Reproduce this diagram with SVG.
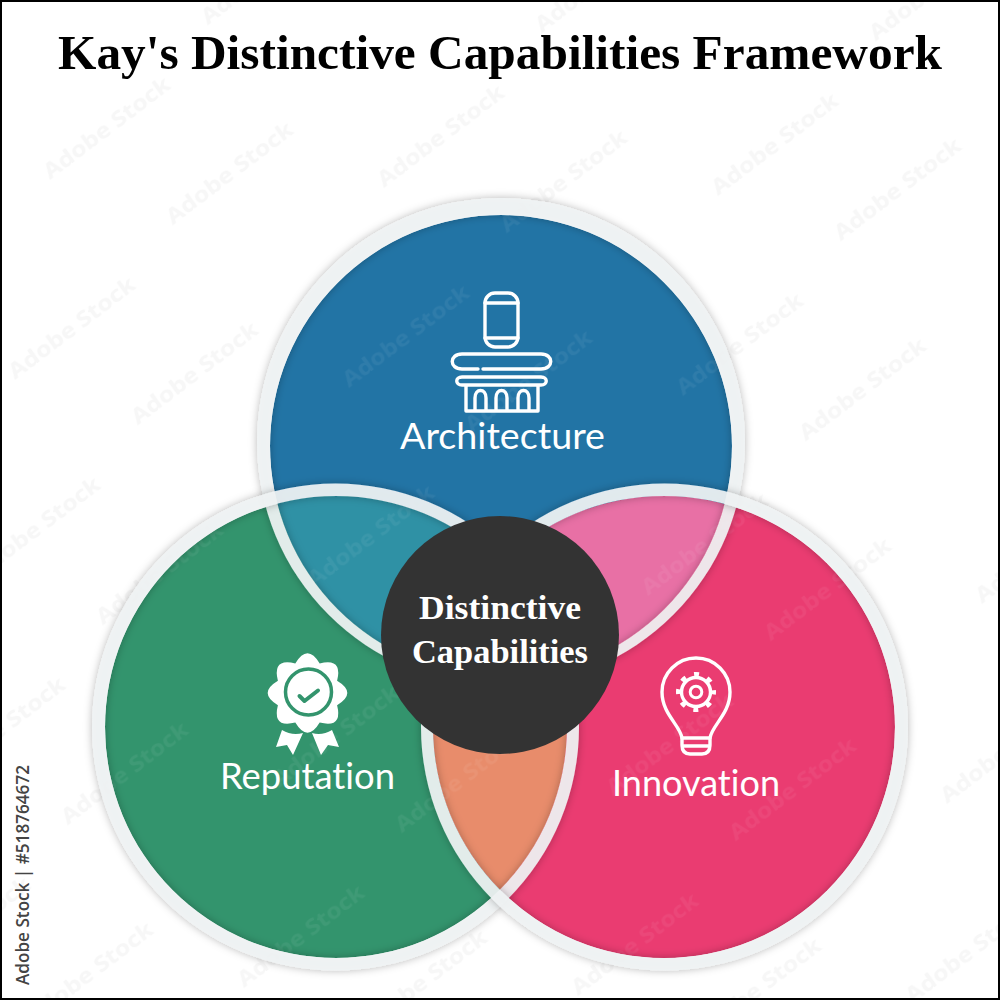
<svg xmlns="http://www.w3.org/2000/svg" xmlns:xlink="http://www.w3.org/1999/xlink" width="1000" height="1000" viewBox="0 0 1000 1000">
<style>
.ring{fill:#f0f3f4;fill-opacity:.92;fill-rule:evenodd;filter:url(#sh)}
.lb{font-family:Lato,"Liberation Sans",sans-serif;fill:#fff;text-anchor:middle;font-variant-ligatures:none}
.sf{font-family:"Liberation Serif",serif;font-weight:bold;text-anchor:middle}
.ic{fill:none;stroke:#fff;stroke-width:3.4;stroke-linecap:round;stroke-linejoin:round}
.wm{font-family:"Open Sans","Liberation Sans",sans-serif;font-weight:700;font-size:23px}
</style>
<defs>
<filter id="sh" x="-10%" y="-10%" width="120%" height="120%"><feDropShadow dx="0" dy="0" stdDeviation="4.5" flood-color="#000" flood-opacity=".3"/></filter>
<clipPath id="cT"><circle cx="501" cy="446" r="231"/></clipPath>
<clipPath id="cL"><circle cx="336" cy="727" r="231"/></clipPath>
<clipPath id="cR"><circle cx="664" cy="727" r="231"/></clipPath>
<pattern id="wg" width="334" height="200" patternUnits="userSpaceOnUse" patternTransform="matrix(1 .024 -.175 1 54.5 39.5)">
<g class="wm" fill="#000" fill-opacity=".035"><text transform="translate(20 140) rotate(-42)">Adobe Stock</text><text transform="translate(150 182) rotate(-42)">Adobe Stock</text></g>
</pattern>
<pattern id="ww" width="334" height="200" patternUnits="userSpaceOnUse" patternTransform="matrix(1 .024 -.175 1 54.5 39.5)">
<g class="wm" fill="#fff" fill-opacity=".06"><text transform="translate(20 140) rotate(-42)">Adobe Stock</text><text transform="translate(150 182) rotate(-42)">Adobe Stock</text></g>
</pattern>
</defs>
<rect width="1000" height="1000" fill="#fff"/>
<rect width="1000" height="1000" fill="url(#wg)"/>

<circle cx="501" cy="446" r="231" fill="#2274a5"/>
<circle cx="336" cy="727" r="231" fill="#33946d"/>
<circle cx="664" cy="727" r="231" fill="#ea3c71"/>

<g id="overlaps">
<g clip-path="url(#cT)"><circle cx="336" cy="727" r="231" fill="#2f91a5"/><circle cx="664" cy="727" r="231" fill="#e870a5"/></g>
<g clip-path="url(#cL)"><circle cx="664" cy="727" r="231" fill="#e88c6b"/></g>
</g>
<rect width="1000" height="1000" fill="url(#ww)"/>

<g id="rings">
<path class="ring" d="M257 442a244 244 0 1 0 488 0a244 244 0 1 0-488 0ZM270 446a231 231 0 1 0 462 0a231 231 0 1 0-462 0Z"/>
<path class="ring" d="M92 727a243.500 243.500 0 1 0 487 0a243.500 243.500 0 1 0-487 0ZM105 727a231 231 0 1 0 462 0a231 231 0 1 0-462 0Z"/>
<path class="ring" d="M421 727a243.500 243.500 0 1 0 487 0a243.500 243.500 0 1 0-487 0ZM433 727a231 231 0 1 0 462 0a231 231 0 1 0-462 0Z"/>
</g>

<g id="node-architecture">
<g class="ic">
<rect x="485" y="293" width="33" height="54" rx="10"/>
<path d="M485 303H518M485 338H518"/>
<path d="M462 369C449 369 449 354 462 354H541C554 354 554 369 541 369H483M478 369H462"/>
<path d="M462 377H541C548 377 548 385 541 385H462C455 385 455 377 462 377Z"/>
<path d="M466 386V411H538V386"/>
<path d="M475 410V398C475 388 486 388 486 398V410M496 410V398C496 388 507 388 507 398V410M518 410V398C518 388 529 388 529 398V410"/>
</g>
<text class="lb" x="502.500" y="449" font-size="37" textLength="205" lengthAdjust="spacingAndGlyphs">Architecture</text>
</g>

<g id="node-reputation">
<path fill="#fff" d="M337.100 680.800Q357.500 693 337.100 705.200Q342.900 728.400 319.700 722.600Q307.500 743 295.300 722.600Q272.100 728.400 277.900 705.200Q257.500 693 277.900 680.800Q272.100 657.600 295.300 663.400Q307.500 643 319.700 663.400Q342.900 657.600 337.100 680.800Z"/>
<circle cx="308.500" cy="692" r="23" fill="none" stroke="#33946d" stroke-width="3.500"/>
<path d="M299.500 696L304.500 701L318 690.500" fill="none" stroke="#33946d" stroke-width="4" stroke-linecap="round" stroke-linejoin="round"/>
<path fill="#fff" d="M282 730L276 747L287 745L293 755L303 733Q292 736 282 730ZM312 733L321 755L328 745L339 747L332 730Q322 736 312 733Z"/>
<text class="lb" x="307.500" y="789" font-size="36" textLength="175" lengthAdjust="spacingAndGlyphs">Reputation</text>
</g>

<g id="node-innovation">
<g class="ic">
<path d="M682 738C680 725 662 714 662 692A34 34 0 1 1 730 692C730 714 712 725 710 738"/>
<path d="M682 738H710V745Q710 754 702 754H690Q682 754 682 745ZM682 746H710"/>
<circle cx="696" cy="692" r="14.500"/>
<circle cx="696" cy="692" r="5.800" stroke-width="3"/>
<circle cx="696" cy="692" r="17.500" stroke-width="5" stroke-linecap="butt" stroke-dasharray="5 8.744" stroke-dashoffset="2.500"/>
</g>
<text class="lb" x="696" y="796" font-size="36" textLength="168" lengthAdjust="spacingAndGlyphs">Innovation</text>
</g>

<g id="node-center">
<circle cx="500" cy="635" r="119" fill="#333"/>
<text class="sf" x="500" y="619" font-size="33" fill="#fff" textLength="162" lengthAdjust="spacingAndGlyphs">Distinctive</text>
<text class="sf" x="500" y="663" font-size="33" fill="#fff" textLength="176" lengthAdjust="spacingAndGlyphs">Capabilities</text>
</g>

<text class="sf" x="500" y="69" font-size="49" fill="#000" textLength="884" lengthAdjust="spacingAndGlyphs">Kay's Distinctive Capabilities Framework</text>
<text transform="translate(29 985) rotate(-90)" font-family="'Open Sans','Liberation Sans',sans-serif" font-weight="600" font-size="17.500" fill="#444" textLength="220" lengthAdjust="spacingAndGlyphs">Adobe Stock | #518764672</text>
<rect x="1" y="1" width="998" height="998" fill="none" stroke="#000" stroke-width="2"/>
</svg>
